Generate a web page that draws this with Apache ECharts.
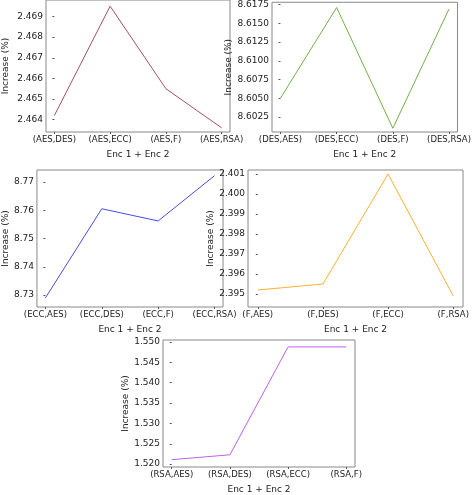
<!DOCTYPE html>
<html><head><meta charset="utf-8">
<script src="https://cdn.jsdelivr.net/npm/echarts@6/dist/echarts.min.js"></script>
<style>html,body{margin:0;padding:0;background:#fff}#c{width:474px;height:495px}</style>
</head><body><div id="c"></div>
<script>
const cats1 = ['(AES,DES)','(AES,ECC)','(AES,F)','(AES,RSA)'];
const vals1 = [2.4642, 2.4695, 2.4655, 2.4636];
const ticks1 = [2.464, 2.465, 2.466, 2.467, 2.468, 2.469];
const cats2 = ['(DES,AES)','(DES,ECC)','(DES,F)','(DES,RSA)'];
const vals2 = [8.6050, 8.6171, 8.6010, 8.6169];
const ticks2 = [8.6025, 8.6050, 8.6075, 8.6100, 8.6125, 8.6150, 8.6175];
const cats3 = ['(ECC,AES)','(ECC,DES)','(ECC,F)','(ECC,RSA)'];
const vals3 = [8.7290, 8.7605, 8.7562, 8.7722];
const ticks3 = [8.73, 8.74, 8.75, 8.76, 8.77];
const cats4 = ['(F,AES)','(F,DES)','(F,ECC)','(F,RSA)'];
const vals4 = [2.3952, 2.3955, 2.4010, 2.3949];
const ticks4 = [2.395, 2.396, 2.397, 2.398, 2.399, 2.400, 2.401];
const cats5 = ['(RSA,AES)','(RSA,DES)','(RSA,ECC)','(RSA,F)'];
const vals5 = [1.5211, 1.5223, 1.5488, 1.5488];
const ticks5 = [1.520, 1.525, 1.530, 1.535, 1.540, 1.545, 1.550];

const panels = [
 {cats:cats1, vals:vals1, ticks:ticks1, dec:3, min:2.4634, max:2.4698, color:'#a8505a', box:[34,0,230,132], gap:36},
 {cats:cats2, vals:vals2, ticks:ticks2, dec:4, min:8.6005, max:8.6178, color:'#70b048', box:[272,0,463,132], gap:38},
 {cats:cats3, vals:vals3, ticks:ticks3, dec:2, min:8.7258, max:8.7742, color:'#4a4ae8', box:[27,170,223,307], gap:22},
 {cats:cats4, vals:vals4, ticks:ticks4, dec:3, min:2.39435, max:2.4012, color:'#ffae30', box:[248,170,463,307], gap:27},
 {cats:cats5, vals:vals5, ticks:ticks5, dec:3, min:1.5193, max:1.5505, color:'#c060f0', box:[163,340,355,477], gap:30}
];
const F = 'DejaVu Sans';
const grid=[], xAxis=[], yAxis=[], series=[];
panels.forEach((p,i)=>{
  const [l,t,r,b]=p.box;
  grid.push({left:l, top:t, width:r-l, height:b-t, show:true, borderColor:'#888', borderWidth:1, backgroundColor:'transparent'});
  xAxis.push({type:'value', gridIndex:i, min:-0.15, max:3.15,
    name:'Enc 1 + Enc 2', nameLocation:'middle', nameGap:18, nameTextStyle:{fontFamily:F,fontSize:9,color:'#222'},
    axisLine:{show:false}, splitLine:{show:false},
    axisTick:{show:true, customValues:[0,1,2,3], length:2, lineStyle:{color:'#555'}},
    axisLabel:{customValues:[0,1,2,3], formatter:v=>p.cats[Math.round(v)], fontFamily:F, fontSize:8.5, color:'#222', margin:3}});
  yAxis.push({type:'value', gridIndex:i, min:p.min, max:p.max,
    name:'Increase (%)', nameLocation:'middle', nameGap:p.gap,
    nameTextStyle:{fontFamily:F,fontSize:9,color:'#222'},
    axisLine:{show:false}, splitLine:{show:false},
    axisTick:{show:true, customValues:p.ticks, length:2, lineStyle:{color:'#555'}},
    axisLabel:{customValues:p.ticks, formatter:v=>v.toFixed(p.dec), fontFamily:F, fontSize:9, color:'#222', margin:3}});
  series.push({type:'line', xAxisIndex:i, yAxisIndex:i, data:p.vals.map((v,k)=>[k,v]),
    symbol:'none', lineStyle:{color:p.color, width:1}, animation:false});
});
const chart = echarts.init(document.getElementById('c'));
chart.setOption({animation:false, grid, xAxis, yAxis, series});
</script></body></html>
